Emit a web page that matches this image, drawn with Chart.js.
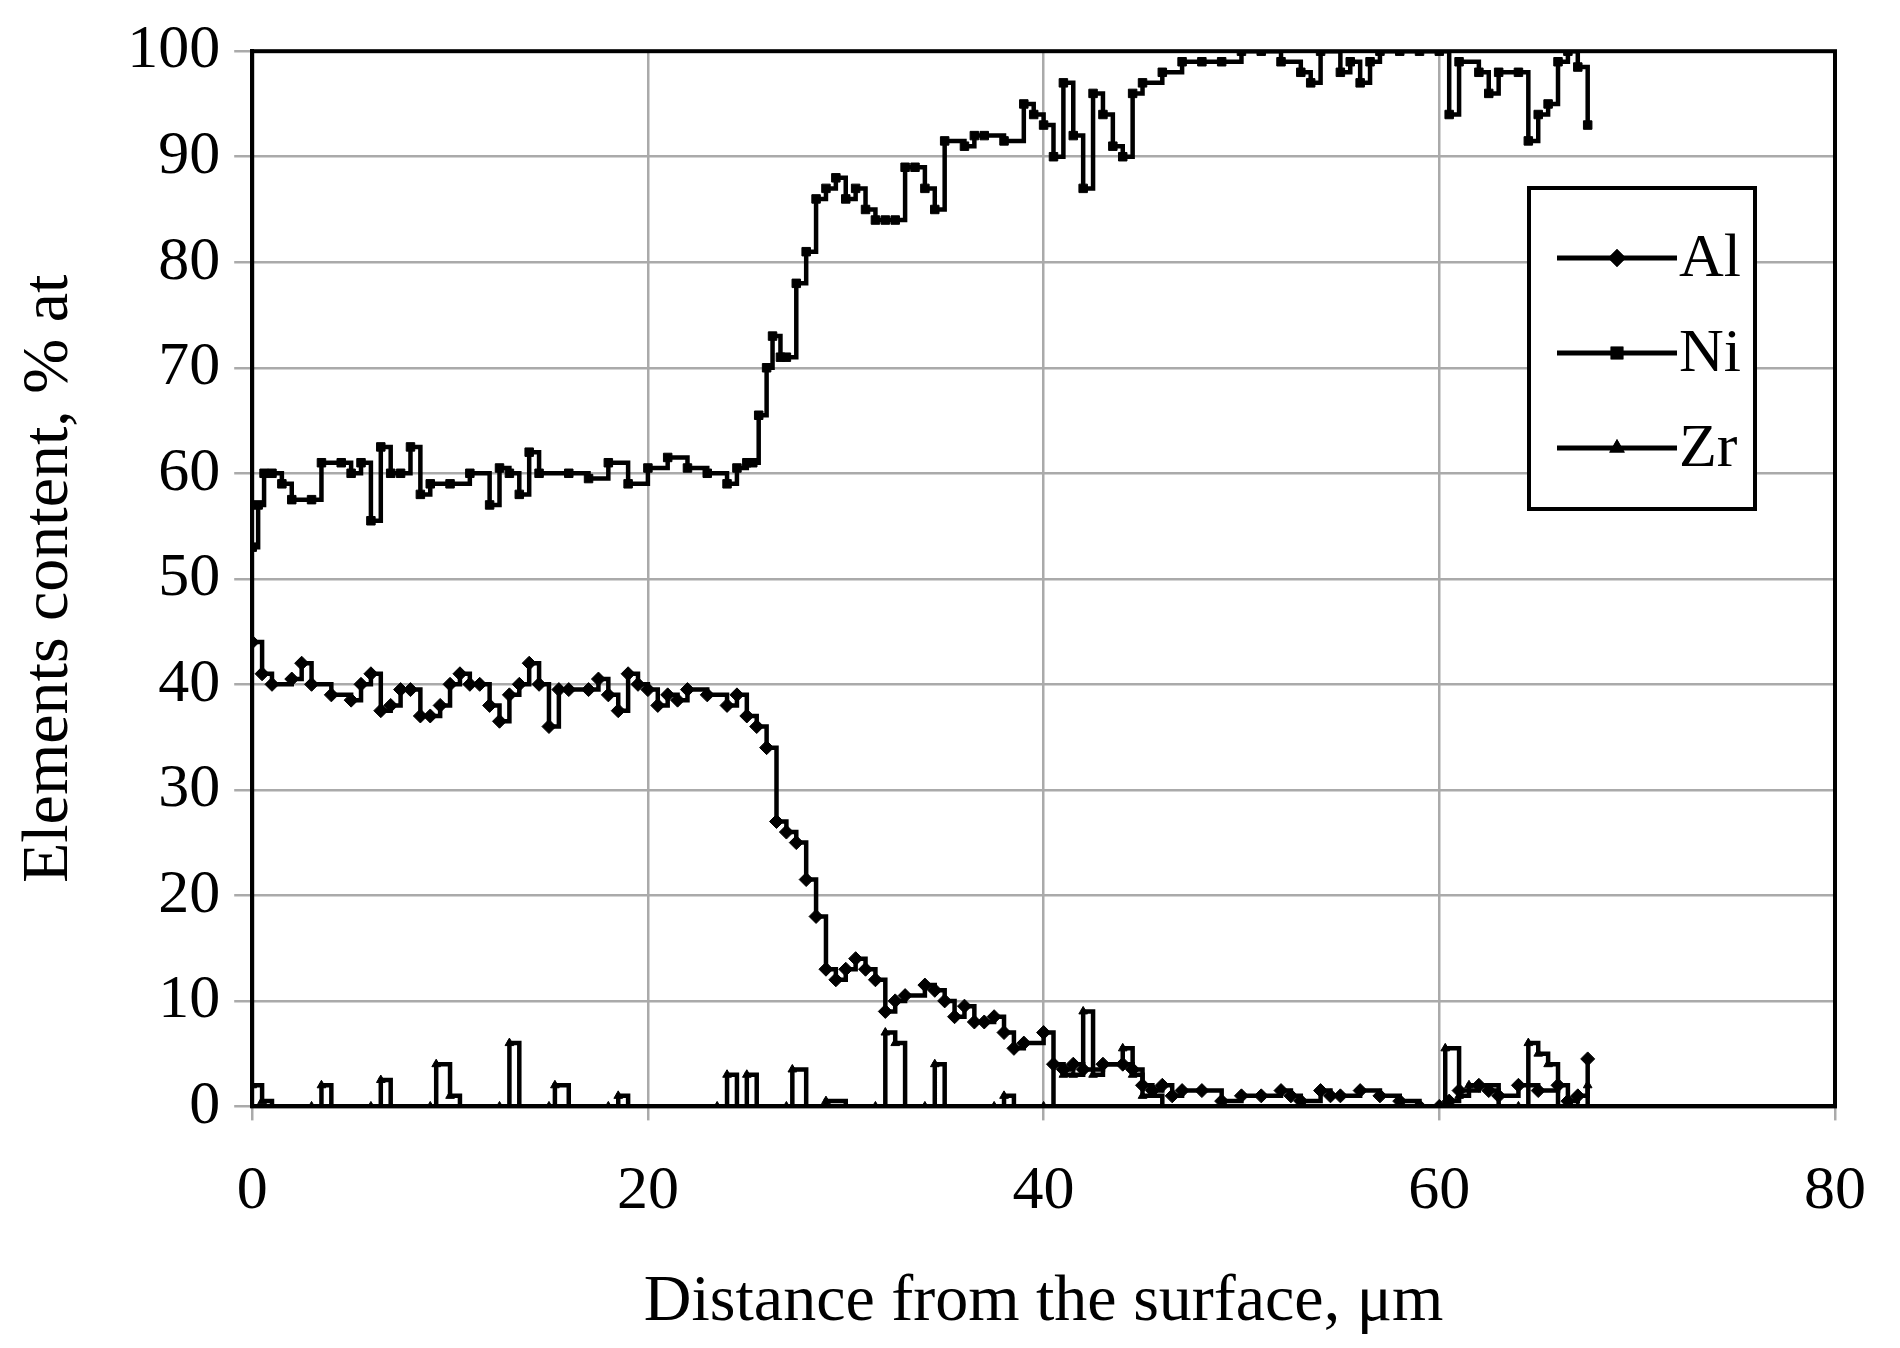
<!DOCTYPE html>
<html><head><meta charset="utf-8">
<script src="https://cdn.jsdelivr.net/npm/chart.js@4"></script>
<style>html,body{margin:0;background:#fff}#wrap{width:1900px;height:1348px}</style>
</head><body><div id="wrap"><canvas id="c"></canvas></div>
<script>
const xTicks = [0, 20, 40, 60, 80];
const yTicks = [0, 10, 20, 30, 40, 50, 60, 70, 80, 90, 100];

const niX = [0,0.3,0.6,1,1.5,2,3,3.5,4.5,5,5.5,6,6.5,7,7.5,8,8.5,9,10,11,12,12.5,13,13.5,14,14.5,16,17,18,19,20,21,22,23,24,24.5,25,25.3,25.6,26,26.3,26.7,27,27.5,28,28.5,29,29.5,30,30.5,31,31.5,32,32.5,33,33.5,34,34.5,35,36,36.5,37,38,39,39.5,40,40.5,41,41.5,42,42.5,43,43.5,44,44.5,45,46,47,48,49,50,51,52,53,53.5,54,55,55.5,56,56.5,57,58,59,60,60.5,61,62,62.5,63,64,64.5,65,65.5,66,66.5,67,67.5];
const niY = [53,57,60,60,59,57.5,57.5,61,61,60,61,55.5,62.5,60,60,62.5,58,59,59,60,57,60.5,60,58,62,60,60,59.5,61,59,60.5,61.5,60.5,60,59,60.5,61,61,65.5,70,73,71,71,78,81,86,87,88,86,87,85,84,84,84,89,89,87,85,91.5,91,92,92,91.5,95,94,93,90,97,92,87,96,94,91,90,96,97,98,99,99,99,100,100,99,98,97,100,98,99,97,99,100,100,100,100,94,99,98,96,98,98,91.5,94,95,99,100,98.5,93];

const alX = [0,0.5,1,2,2.5,3,4,5,5.5,6,6.5,7,7.5,8,8.5,9,9.5,10,10.5,11,11.5,12,12.5,13,13.5,14,14.5,15,15.5,16,17,17.5,18,18.5,19,19.5,20,20.5,21,21.5,22,23,24,24.5,25,25.5,26,26.5,27,27.5,28,28.5,29,29.5,30,30.5,31,31.5,32,32.5,33,34,34.5,35,35.5,36,36.5,37,37.5,38,38.5,39,40,40.5,41,41.5,42,43,44,44.5,45,45.5,46,46.5,47,48,49,50,51,52,52.5,53,54,54.5,55,56,57,58,59,60,60.5,61,62,62.5,63,64,65,66,66.5,67,67.5];
const alY = [44,41,40,40.5,42,40,39,38.5,40,41,37.5,38,39.5,39.5,37,37,38,40,41,40,40,38,36.5,39,40,42,40,36,39.5,39.5,39.5,40.5,39,37.5,41,40,39.5,38,39,38.5,39.5,39,38,39,37,36,34,27,26,25,21.5,18,13,12,13,14,13,12,9,10,10.5,11.5,11,10,8.5,9.5,8,8,8.5,7,5.5,6,7,4,3.5,4,3.5,4,4,3.5,2,1.5,2,1,1.5,1.5,0.5,1,1,1.5,1,0.5,1.5,1,1,1.5,1,0.5,0,0,0.5,1.5,2,1.5,1,2,1.5,2,0.5,1,4.5];

const zrX = [0,0.5,1,3,3.5,4,6,6.5,7,9,9.3,10,10.5,12.5,13,13.5,15,15.3,16,18,18.5,19,23.5,24,24.5,25,25.5,27,27.3,28,29,30,31.5,32,32.5,33,34,34.5,35,37.5,38,38.5,40,40.5,41,41.5,42,42.5,43,44,44.5,45,46,60,60.3,61,61.5,62,63,64,64.5,65,65.5,66,67,67.5];
const zrY = [2,0.5,0,0,2,0,0,2.5,0,0,4,1,0,0,6,0,0,2,0,0,1,0,0,3,0,3,0,0,3.5,0,0.5,0,0,7,6,0,0,4,0,0,1,0,0,4,3,3,9,3,4,5.5,3,1,0,0,5.5,1,2,2,0,0,6,5,4,0,0,2];

const pts = (xs, ys) => xs.map((x, i) => ({ x, y: ys[i] }));
const FONT = "'Liberation Serif', 'DejaVu Serif', serif";

function ds(label, xs, ys, style, r) {
  return { label, data: pts(xs, ys), stepped: true, showLine: true,
    borderColor: '#000', backgroundColor: '#000', borderWidth: 4.5,
    pointStyle: style, pointRadius: r, pointBorderWidth: 1 };
}

const legendBox = {
  id: 'legendBox',
  afterDraw(chart) {
    const c = chart.ctx;
    const items = [['Al', 'rectRot'], ['Ni', 'rect'], ['Zr', 'triangle']];
    const x0 = 1529, y0 = 188, w = 226, h = 321;
    c.save();
    c.fillStyle = '#fff';
    c.fillRect(x0, y0, w, h);
    c.strokeStyle = '#000'; c.lineWidth = 4;
    c.strokeRect(x0, y0, w, h);
    c.font = '62px ' + FONT;
    c.fillStyle = '#000'; c.textBaseline = 'middle';
    items.forEach((it, i) => {
      const y = y0 + 70 + i * 95;
      c.lineWidth = 5;
      c.beginPath(); c.moveTo(x0 + 28, y); c.lineTo(x0 + 148, y); c.stroke();
      Chart.helpers.drawPoint(c, { pointStyle: it[1], radius: 9, rotation: 0 }, x0 + 88, y);
      c.fill();
      c.fillText(it[0], x0 + 150, y + 2);
    });
    c.restore();
  }
};

new Chart(document.getElementById('c'), {
  type: 'scatter',
  data: { datasets: [
    ds('Al', alX, alY, 'rectRot', 7),
    ds('Ni', niX, niY, 'rect', 6),
    ds('Zr', zrX, zrY, 'triangle', 5)
  ] },
  options: {
    responsive: true, maintainAspectRatio: false, animation: false,
    layout: { padding: { top: 34, right: 36, left: 10, bottom: 0 } },
    plugins: { legend: { display: false }, tooltip: { enabled: false } },
    scales: {
      x: { type: 'linear', min: 0, max: 80,
        afterBuildTicks: a => { a.ticks = xTicks.map(v => ({ value: v })); },
        grid: { color: '#aaa', lineWidth: 2.5, tickLength: 14 },
        border: { color: '#000', width: 4 },
        ticks: { color: '#000', font: { family: FONT, size: 62 }, padding: 34 },
        title: { display: true, text: 'Distance from the surface, μm', color: '#000',
          font: { family: FONT, size: 66 }, padding: { top: 0, bottom: 6 } } },
      y: { min: 0, max: 100,
        afterBuildTicks: a => { a.ticks = yTicks.map(v => ({ value: v })); },
        grid: { color: '#aaa', lineWidth: 2.5, tickLength: 18 },
        border: { color: '#000', width: 4 },
        ticks: { color: '#000', font: { family: FONT, size: 62 }, padding: 14 },
        title: { display: true, text: 'Elements content, % at', color: '#000',
          font: { family: FONT, size: 66 }, padding: { top: 0, bottom: 24 } } }
    }
  },
  plugins: [legendBox, {
    id: 'frame',
    afterDraw(chart) {
      const a = chart.chartArea, c = chart.ctx;
      c.save(); c.strokeStyle = '#000'; c.lineWidth = 4;
      c.strokeRect(a.left, a.top, a.right - a.left, a.bottom - a.top);
      c.restore();
    }
  }]
});
</script></body></html>
